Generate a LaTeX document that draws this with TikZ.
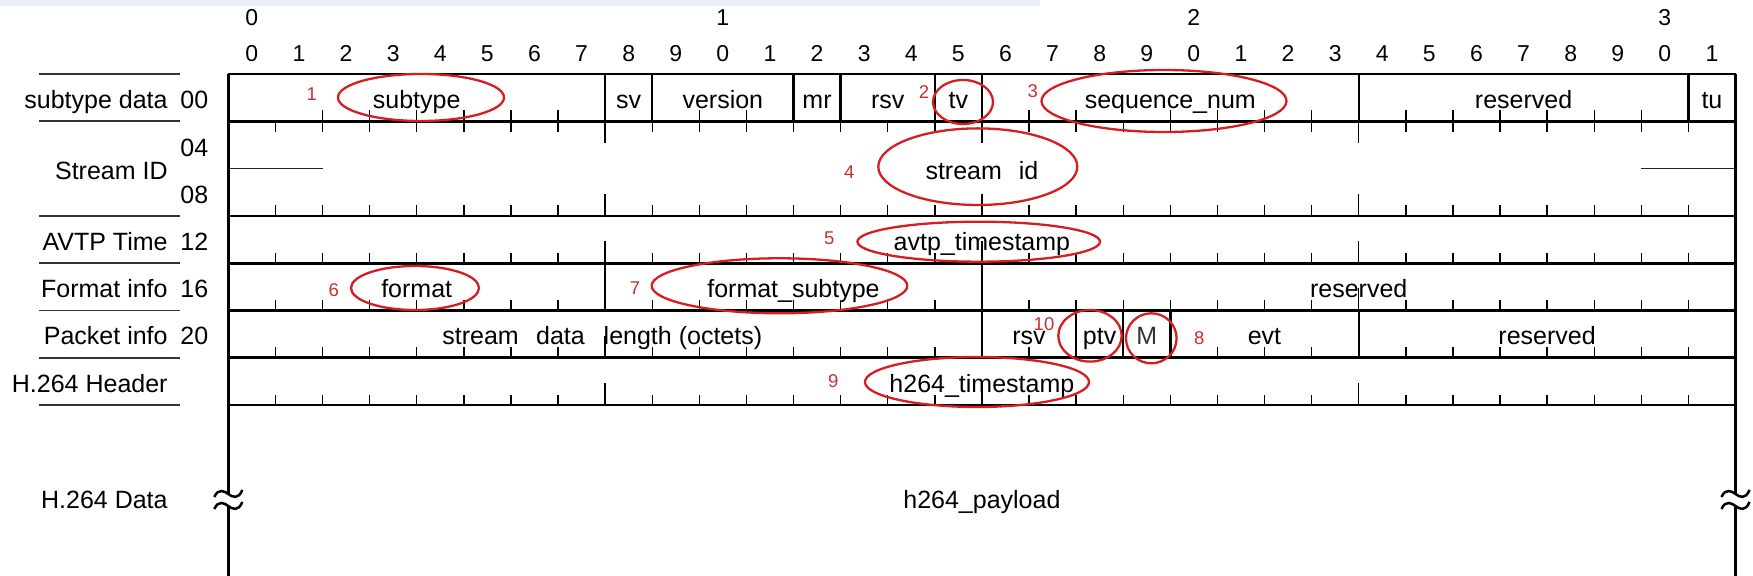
\documentclass[tikz,border=0pt]{standalone}
\usepackage{fontspec}
\setmainfont{Liberation Sans}
\definecolor{ringred}{RGB}{214,30,34}
\definecolor{numred}{RGB}{205,45,45}
\definecolor{topband}{RGB}{236,241,247}
\newcommand{\bitx}[1]{(228.3+47.1*(#1))}
\begin{document}
\begin{tikzpicture}[x=0.5pt,y=-0.5pt,
  gridline/.style={line width=1.35pt,black},
  sepline/.style={line width=1.2pt,black},
  tickline/.style={line width=0.7pt,black},
  thinline/.style={line width=0.8pt,black!85},
  labline/.style={line width=0.9pt,black!80},
  ring/.style={line width=1.15pt,ringred},
  txt/.style={font=\fontsize{12.5pt}{15pt}\selectfont,inner sep=0pt,anchor=base},
  lbl/.style={txt,anchor=base east},
  dig/.style={font=\fontsize{11.5pt}{14pt}\selectfont,inner sep=0pt,anchor=base},
  topdig/.style={font=\fontsize{11.5pt}{14pt}\selectfont,inner sep=0pt,anchor=base},
  rnum/.style={font=\fontsize{9.25pt}{11pt}\selectfont,inner sep=0pt,text=numred,anchor=center}
]
\useasboundingbox (0,0) rectangle (1753,576);
\fill[topband] (0,0) rectangle (1040,6);

% ---- header digits ----
\node[topdig] (t0) at ({\bitx{0.5}},26) {0};
\node[topdig] (t1) at ({\bitx{10.5}},26) {1};
\node[topdig] (t2) at ({\bitx{20.5}},26) {2};
\node[topdig] (t3) at ({\bitx{30.5}},26) {3};
\foreach \i in {0,...,31}{
  \pgfmathtruncatemacro\d{mod(\i,10)}
  \node[dig] (b\i) at ({\bitx{\i+0.5}},61.7) {\d};
}

% ---- horizontal grid lines ----
\foreach \y in {74,121.3,215.9,263.2,310.5,357.8,405.1}{
  \draw[gridline] ({\bitx{0}},\y) -- ({\bitx{32}},\y);
}
% stream id partial middle lines
\draw[thinline] ({\bitx{0}},168.6) -- ({\bitx{2}},168.6);
\draw[thinline] ({\bitx{30}},168.6) -- ({\bitx{32}},168.6);

% ---- outer borders with break marks ----
\draw[gridline] ({\bitx{0}},74) -- ({\bitx{0}},494);
\draw[gridline] ({\bitx{0}},506) -- ({\bitx{0}},576);
\draw[gridline] ({\bitx{32}},74) -- ({\bitx{32}},494);
\draw[gridline] ({\bitx{32}},506) -- ({\bitx{32}},576);
\foreach \xx in {228.3,1735.5}{
  \foreach \yy in {494,506}{
    \draw[line width=1.25pt] ({\xx-14},{\yy+3}) .. controls ({\xx-10},{\yy-6}) and ({\xx-4},{\yy-3}) .. (\xx,\yy)
      .. controls ({\xx+4},{\yy+3}) and ({\xx+10},{\yy+6}) .. ({\xx+14},{\yy-4});
  }
}

% ---- field separators ----
\foreach \i in {8,9,12,13,15,16,24,31}{
  \draw[sepline] ({\bitx{\i}},74) -- ({\bitx{\i}},121.3);
}
\foreach \i in {8,16}{
  \draw[sepline] ({\bitx{\i}},263.2) -- ({\bitx{\i}},310.5);
}
\foreach \i in {16,18,19,20,24}{
  \draw[sepline] ({\bitx{\i}},310.5) -- ({\bitx{\i}},357.8);
}

% ---- ticks ----
% first row: ticks hanging down
\foreach \i in {1,...,31}{
  \pgfmathsetmacro\tl{mod(\i,8)==0 ? 22 : 11}
  \draw[tickline] ({\bitx{\i}},121.3) -- ++(0,\tl);
}
\foreach \i in {2,3,4,5,6,7,10,11,17,18,20,21,22,23,25,26,27,28,29,30}{
  \draw[tickline] ({\bitx{\i}},121.3) -- ++(0,-11.5);
}
% other rows: ticks rising from bottom line
\foreach \y in {215.9,263.2,310.5,357.8,405.1}{
  \foreach \i in {1,...,31}{
    \pgfmathsetmacro\tl{mod(\i,8)==0 ? 22 : 10.5}
    \draw[tickline] ({\bitx{\i}},\y) -- ++(0,-\tl);
  }
}

% ---- left label column ----
\foreach \y in {74,121.3,215.9,263.2,310.5,357.8,405.1}{
  \draw[labline] (39,\y) -- (180,\y);
}
\node[lbl] (lsub) at (168,108.5) {subtype data};
\node[txt] (n00) at (194.3,108.5) {00};
\node[lbl] (lsid) at (168,179.3) {Stream ID};
\node[txt] (n04) at (194.3,157) {04};
\node[txt] (n08) at (194.3,204) {08};
\node[lbl] (lavtp) at (168,250.3) {AVTP Time};
\node[txt] (n12) at (194.3,250.3) {12};
\node[lbl] (lfmt) at (168,297.6) {Format info};
\node[txt] (n16) at (194.3,297.6) {16};
\node[lbl] (lpkt) at (168,344.9) {Packet info};
\node[txt] (n20) at (194.3,344.9) {20};
\node[lbl] (lhdr) at (168,392.2) {H.264 Header};
\node[lbl] (ldata) at (168,509) {H.264 Data};

% ---- field texts ----
\node[txt] (fsubtype) at ({\bitx{4}},108.5) {subtype};
\node[txt] (fsv) at ({\bitx{8.5}},108.5) {sv};
\node[txt] (fversion) at ({\bitx{10.5}},108.5) {version};
\node[txt] (fmr) at ({\bitx{12.5}},108.5) {mr};
\node[txt] (frsv1) at ({\bitx{14}},108.5) {rsv};
\node[txt] (ftv) at ({\bitx{15.5}},108.5) {tv};
\node[txt] (fseq) at ({\bitx{20}},108.5) {sequence\_num};
\node[txt] (fres1) at ({\bitx{27.5}},108.5) {reserved};
\node[txt] (ftu) at ({\bitx{31.5}},108.5) {tu};
\node[txt] (fsid) at ({\bitx{16}},179.3) {stream\hspace{5pt} id};
\node[txt] (favtp) at ({\bitx{16}},250.3) {avtp\_timestamp};
\node[txt] (fformat) at ({\bitx{4}},297.6) {format};
\node[txt] (ffsub) at ({\bitx{12}},297.6) {format\_subtype};
\node[txt] (fres2) at ({\bitx{24}},297.6) {reserved};
\node[txt,anchor=base west] (flen) at (442,344.9) {stream\hspace{5.2pt} data\hspace{6pt} length (octets)};
\node[txt] (frsv2) at ({\bitx{17}},344.9) {rsv};
\node[txt] (fptv) at ({\bitx{18.5}},344.9) {ptv};
\node[txt,text=black!80] (fM) at ({\bitx{19.5}},344.9) {M};
\node[txt] (fevt) at ({\bitx{22}},344.9) {evt};
\node[txt] (fres3) at ({\bitx{28}},344.9) {reserved};
\node[txt] (fh264ts) at ({\bitx{16}},392.2) {h264\_timestamp};
\node[txt] (fpay) at ({\bitx{16}},509) {h264\_payload};

% ---- red highlight rings ----
\draw[ring] (421,97.5) ellipse [x radius=83, y radius=23.5];
\draw[ring] (963,102) ellipse [x radius=30, y radius=22];
\draw[ring] (1164,101) ellipse [x radius=122.5, y radius=31];
\draw[ring] (977.8,166.7) ellipse [x radius=99.5, y radius=38.3];
\draw[ring] (978.7,241.7) ellipse [x radius=121.3, y radius=20];
\draw[ring] (415,288) ellipse [x radius=64, y radius=22];
\draw[ring] (779.5,285.8) ellipse [x radius=127.8, y radius=27.5];
\draw[ring] (1151.3,338.3) ellipse [x radius=25.3, y radius=25];
\draw[ring] (977,382) ellipse [x radius=112, y radius=25];
\draw[ring] (1090,335.8) ellipse [x radius=31.7, y radius=25.8];

% ---- red numbers ----
\node[rnum] (r1) at (311.7,93.7) {1};
\node[rnum] (r2) at (924,92.5) {2};
\node[rnum] (r3) at (1032.7,91) {3};
\node[rnum] (r4) at (849.3,171.7) {4};
\node[rnum] (r5) at (829.3,238.3) {5};
\node[rnum] (r6) at (333.7,290) {6};
\node[rnum] (r7) at (635,288.3) {7};
\node[rnum] (r8) at (1199.3,338.3) {8};
\node[rnum] (r9) at (833.3,380.8) {9};
\node[rnum] (r10) at (1044,324) {10};
\end{tikzpicture}
\end{document}
